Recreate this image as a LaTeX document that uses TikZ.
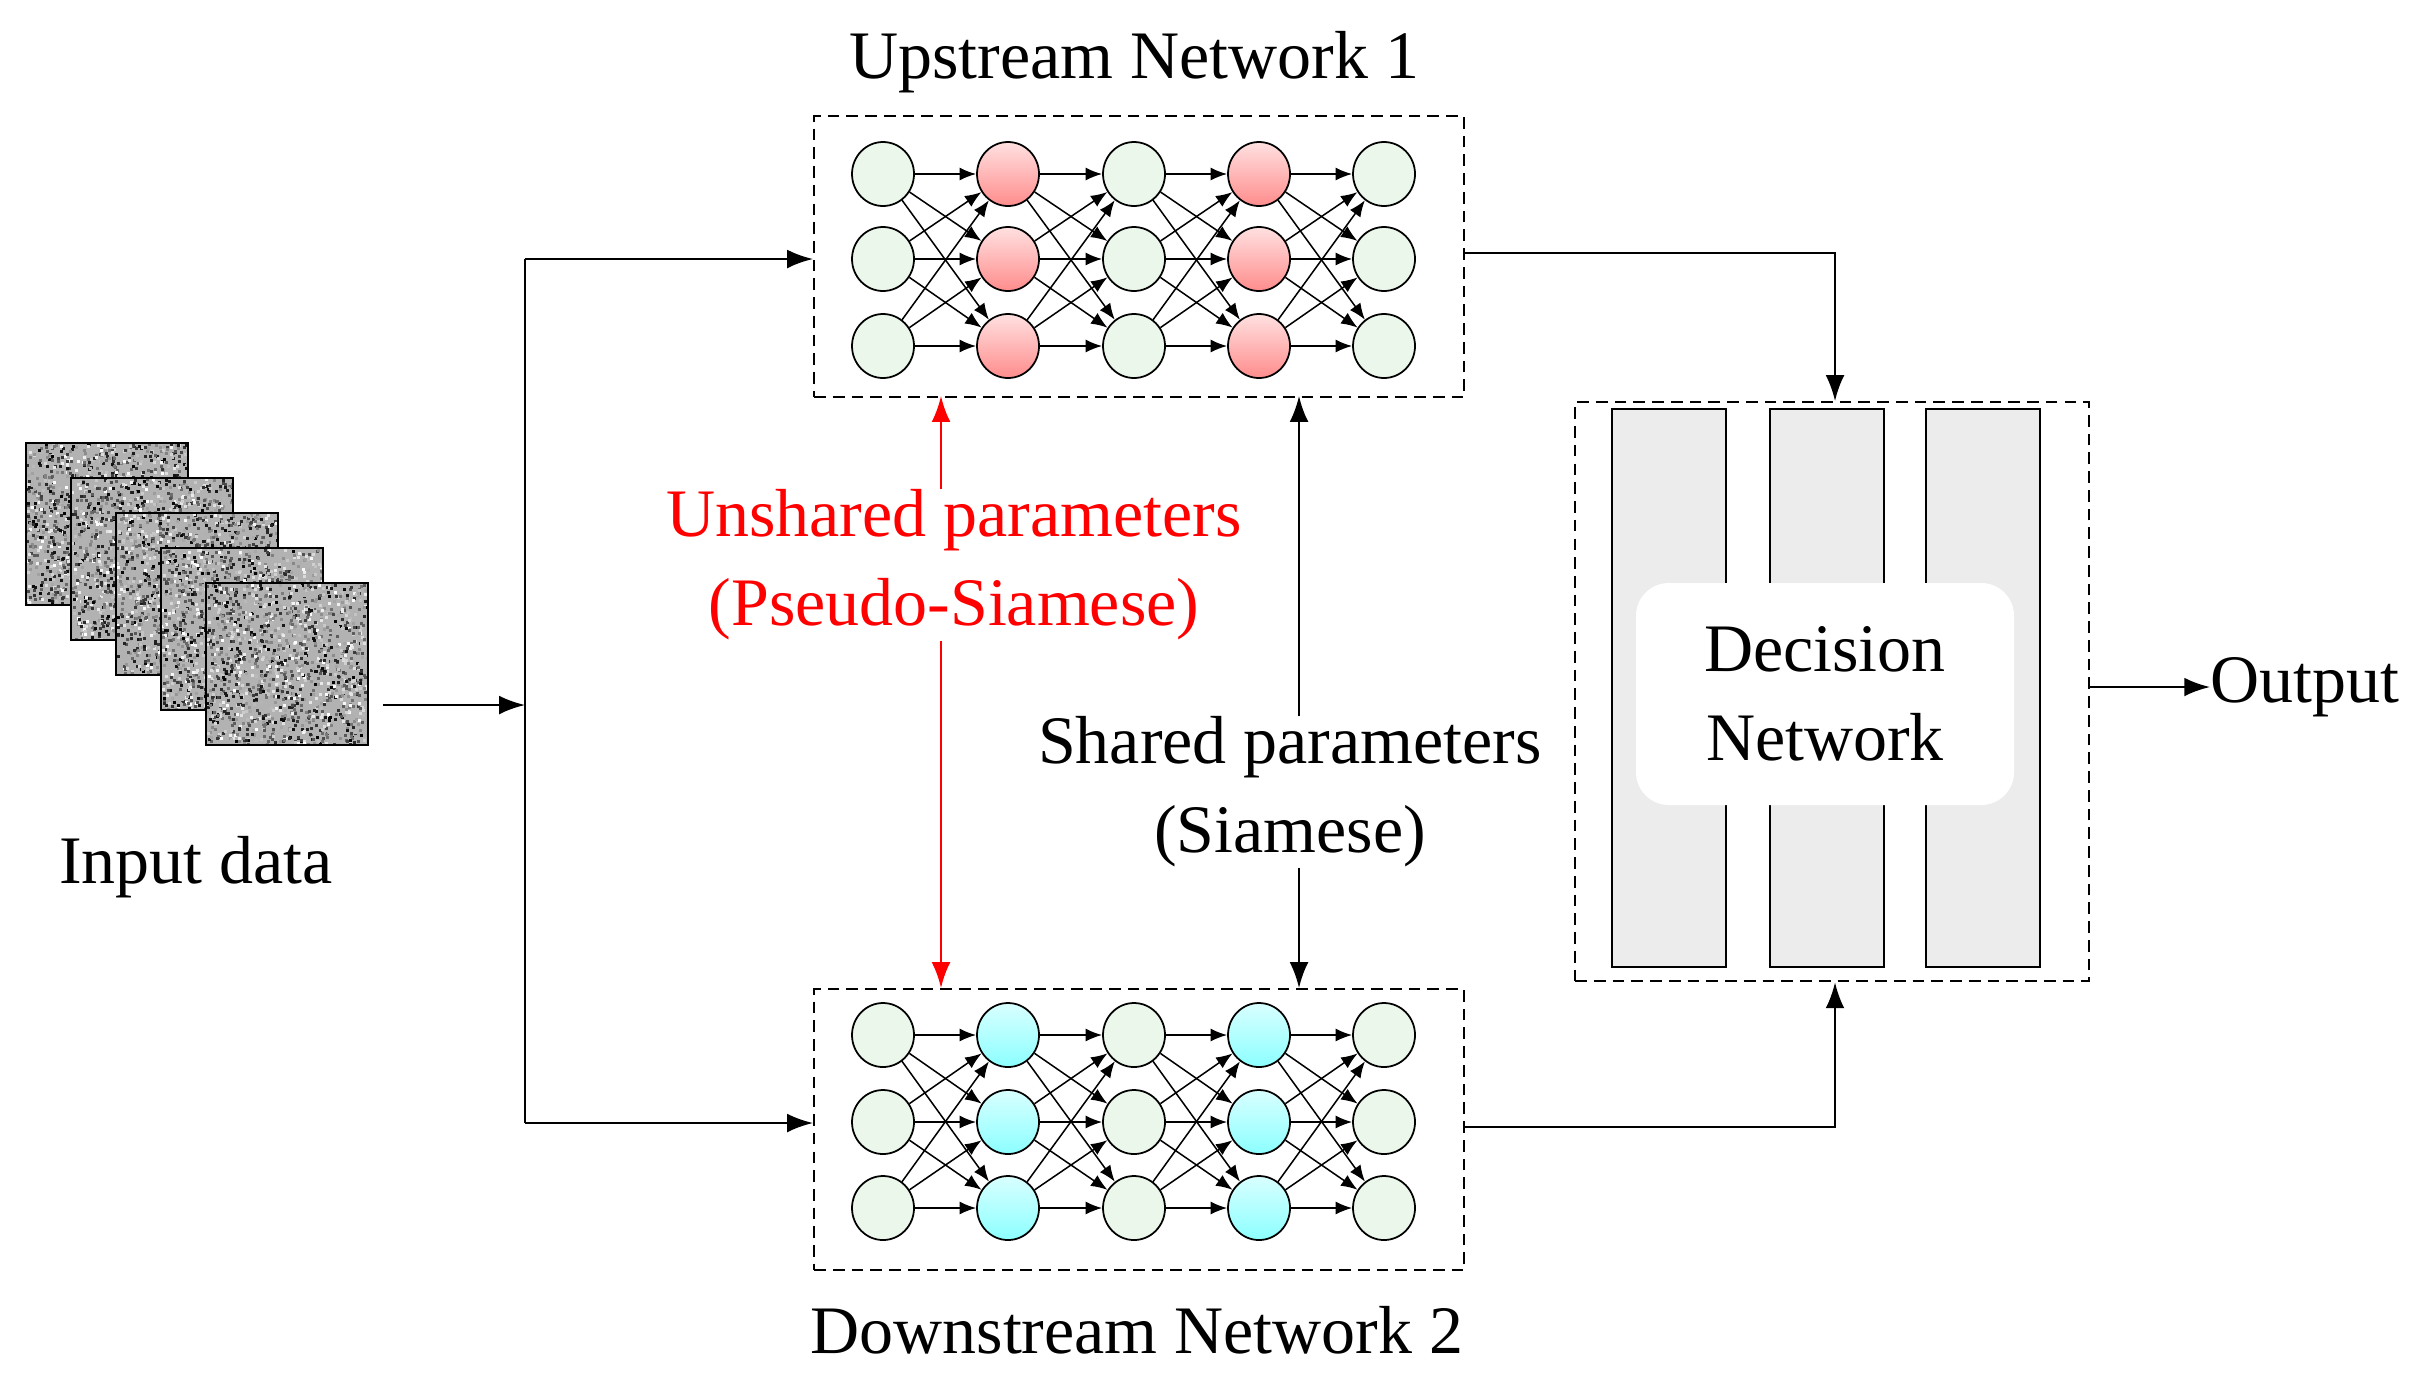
\documentclass[tikz,border=0pt]{standalone}
\usepackage{fontspec}
\setmainfont{Liberation Serif}
\usetikzlibrary{arrows.meta,shapes.geometric}
\begin{document}
\begin{tikzpicture}[x=0.03cm,y=-0.03cm,
  txt/.style={font=\fontsize{58}{70}\selectfont,inner sep=0pt},
  neu/.style={ellipse,draw,line width=1.5pt,minimum width=62*0.03cm,minimum height=64*0.03cm,inner sep=0pt},
  gr/.style={neu,fill=green!15!white!85!gray!40},
  rd/.style={neu,top color=red!12,bottom color=red!45},
  cy/.style={neu,top color=cyan!15,bottom color=cyan!45},
  ln/.style={line width=2pt,-{Latex[length=22pt,width=16pt]}},
  lnk/.style={line width=1.3pt,-{Latex[length=14pt,width=11pt]}},
  dbox/.style={draw,line width=2pt,dash pattern=on 10pt off 6pt},
]
\useasboundingbox (0,0) rectangle (2419,1386);
% input images
\pgfmathsetseed{7}
\foreach \k in {0,...,4}{
  \pgfmathsetmacro\xx{26+45*\k}\pgfmathsetmacro\yy{443+35*\k}
  \begin{scope}
  \fill[gray!60] (\xx,\yy) rectangle ++(162,162);
  \clip (\xx,\yy) rectangle ++(162,162);
  \foreach \d in {1,...,1400}{
    \pgfmathsetmacro\px{\xx+rnd*162}\pgfmathsetmacro\py{\yy+rnd*162}
    \pgfmathsetmacro\cc{int(rnd*100)}
    \fill[black!\cc] (\px,\py) rectangle ++(3,3);}
  \end{scope}
  \draw[line width=1.5pt] (\xx,\yy) rectangle ++(162,162);
}
\coordinate (imgR) at (383,705);
\node[txt] (inp) at (196,867) {Input data};
\coordinate (split) at (525,705);
\coordinate (st) at (525,259);
\coordinate (sb) at (525,1123);
% boxes
\node[dbox,minimum width=650*0.03cm,minimum height=281*0.03cm,anchor=north west,inner sep=0pt] (up) at (813,115) {};
\node[dbox,minimum width=650*0.03cm,minimum height=281*0.03cm,anchor=north west,inner sep=0pt] (dn) at (813,988) {};
\node[txt] (upt) at (1134,62) {Upstream Network 1};
\node[txt] (dnt) at (1137,1330) {Downstream Network 2};
% neurons
\foreach \c/\x in {1/883,2/1008,3/1134,4/1259,5/1384}{
  \foreach \r/\y in {1/174,2/259,3/346}{
    \ifodd\c \node[gr] (u\c\r) at (\x,\y) {}; \else \node[rd] (u\c\r) at (\x,\y) {}; \fi
  }
  \foreach \r/\y in {1/1035,2/1122,3/1208}{
    \ifodd\c \node[gr] (d\c\r) at (\x,\y) {}; \else \node[cy] (d\c\r) at (\x,\y) {}; \fi
  }
}
\foreach \c [evaluate=\c as \n using int(\c+1)] in {1,...,4}{
  \foreach \a in {1,2,3}{\foreach \b in {1,2,3}{
    \draw[lnk] (u\c\a) -- (u\n\b);
    \draw[lnk] (d\c\a) -- (d\n\b);
  }}}
\draw[ln] (imgR) -- (split);
\draw[line width=2pt] (st) -- (sb);
\draw[ln] (st) -- (up.west |- st);
\draw[ln] (sb) -- (dn.west |- sb);
% unshared
\node[txt,red,align=center] (uns) at (954,565) {Unshared parameters\\[6pt](Pseudo-Siamese)};
\draw[ln,red] (uns.north -| 941,0) -- (941,396);
\draw[ln,red] (uns.south -| 941,0) -- (941,988);
\node[txt,align=center] (sh) at (1290,792) {Shared parameters\\[6pt](Siamese)};
\draw[ln] (sh.north -| 1299,0) -- (1299,396);
\draw[ln] (sh.south -| 1299,0) -- (1299,988);
% decision
\node[dbox,minimum width=514*0.03cm,minimum height=579*0.03cm,anchor=north west,inner sep=0pt] (dec) at (1574,401) {};
\foreach \i/\x in {1/1612,2/1770,3/1926}
  \draw[fill=gray!15,line width=1.5pt] (\x,409) rectangle ++(114,558);
\node[fill=white,rounded corners=28pt,minimum width=378*0.03cm,minimum height=222*0.03cm] (dw) at (1825,694) {};
\node[txt,align=center] at (dw) {Decision\\[6pt]Network};
\coordinate (uo) at (1463,253);
\coordinate (do) at (1463,1127);
\draw[ln] (uo) -| (dec.north -| 1835,0);
\draw[ln] (do) -| (dec.south -| 1835,0);
\node[txt,anchor=west] (out) at (2210,687) {Output};
\draw[ln] (dec.east |- out) -- (out.west);
\end{tikzpicture}
\end{document}
